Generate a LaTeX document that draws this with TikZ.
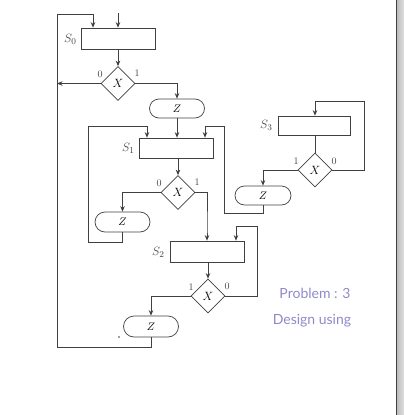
\documentclass[tikz,border=0pt]{standalone}
\usepackage{fontspec}
\newfontfamily\handfont{Lato}
\usetikzlibrary{shapes.geometric,shapes.misc,arrows.meta}
\definecolor{ink}{HTML}{404040}
\definecolor{pen}{HTML}{8E8AC9}
\begin{document}
\begin{tikzpicture}[x=1pt,y=-1pt,
  ln/.style={draw=ink,line width=0.7pt},
  arr/.style={ln,-{Stealth[length=5.5pt,width=4.5pt]}},
  statebox/.style={draw=ink,line width=0.7pt,rectangle,inner sep=0pt,minimum width=74pt,minimum height=21pt},
  decbox/.style={draw=ink,line width=0.7pt,diamond,inner sep=0pt,minimum width=34pt,minimum height=34pt,font=\fontsize{11.5}{13}\selectfont\itshape},
  outbox/.style={draw=ink,line width=0.7pt,rounded rectangle,inner sep=0pt,minimum width=55pt,minimum height=19pt,font=\fontsize{11}{13}\selectfont},
  slab/.style={font=\fontsize{12.5}{14}\selectfont,text=ink},
  blab/.style={font=\fontsize{10}{12}\selectfont,text=ink,inner sep=0pt}]
\useasboundingbox (0,0) rectangle (404,415);
% scan edge
\shade[left color=gray!55,right color=gray!25] (396,0) rectangle (404,415);
\draw[ink,line width=0.5pt] (396,0) -- (396,415);

% nodes
\node[statebox] (s0) at (118,38.5) {};
\node[slab,anchor=east] (ls0) at (80,39) {$S_0$};
\node[decbox] (d1) at (118,83.5) {$X$};
\node[outbox] (z1) at (177,108.5) {$Z$};
\node[statebox,minimum height=20pt] (s1) at (176,148) {};
\node[slab,anchor=east] (ls1) at (138,148) {$S_1$};
\node[decbox] (d2) at (178,192.5) {$X$};
\node[outbox,minimum height=20pt] (z2) at (122.5,222) {$Z$};
\node[statebox] (s2) at (207,251.5) {};
\node[slab,anchor=east] (ls2) at (168,252) {$S_2$};
\node[decbox] (d3) at (208,296) {$X$};
\node[outbox,minimum height=21pt] (z4) at (151,326.5) {$Z$};
\node[statebox,minimum width=72pt,minimum height=19pt] (s3) at (314,125.5) {};
\node[slab,anchor=east] (ls3) at (276,125) {$S_3$};
\node[decbox] (d4) at (315,170) {$X$};
\node[outbox,minimum width=56pt] (z3) at (263,195.5) {$Z$};

% branch labels
\node[blab] (a0) at (100,74) {0};
\node[blab] (a1) at (137,73) {1};
\node[blab] (b0) at (159,183) {0};
\node[blab] (b1) at (197,182) {1};
\node[blab] (c1) at (191,287) {1};
\node[blab] (c0) at (227,286) {0};
\node[blab] (e1) at (296,161) {1};
\node[blab] (e0) at (334,161) {0};

% coordinates for loops
\coordinate (in0) at (118,13);
\coordinate (lb) at (57,347);
\coordinate (lt) at (57,14);
\coordinate (t0) at (93,14);
\coordinate (l1b) at (88,242);
\coordinate (l1t) at (88,126);
\coordinate (l1a) at (147,126);
\coordinate (r1b) at (224,213);
\coordinate (r1t) at (224,126);
\coordinate (r1a) at (205,126);
\coordinate (s2in) at (207,230);
\coordinate (r2b) at (257,296);
\coordinate (r2t) at (257,226);
\coordinate (r2a) at (236,226);
\coordinate (r3b) at (364,170);
\coordinate (r3t) at (364,101);
\coordinate (r3a) at (315,101);

% connectors
\draw[arr] (in0) -- (s0.north);
\draw[arr] (z4.south) |- (lb) -- (lt) -- (t0) -- (t0 |- s0.north);
\draw[arr] (s0.south) -- (d1.north);
\draw[arr] (d1.west) -- (d1.west -| lb);
\draw[arr] (d1.east) -| (z1.north);
\draw[arr] (z1.south) -- (z1.south |- s1.north);
\draw[arr] (z2.south) |- (l1b) -- (l1t) -- (l1a) -- (l1a |- s1.north);
\draw[arr] (z3.south) |- (r1b) -- (r1t) -- (r1a) -- (r1a |- s1.north);
\draw[arr] (s1.south -| d2.north) -- (d2.north);
\draw[arr] (d2.west) -| (z2.north);
\draw[arr] (d2.east) -| (s2in) -- (s2in |- s2.north);
\draw[arr] (s2.south -| d3.north) -- (d3.north);
\draw[arr] (d3.east) -- (r2b) -- (r2t) -- (r2a) -- (r2a |- s2.north);
\draw[arr] (d3.west) -| (z4.north);
\draw[ln] (s3.south -| d4.north) -- (d4.north);
\draw[arr] (d4.east) -- (r3b) -- (r3t) -- (r3a) -- (r3a |- s3.north);
\draw[arr] (d4.west) -| (z3.north);

% speck
\fill[ink] (119,337) circle (0.8);

% handwriting
\node[font=\handfont\fontsize{14}{16}\selectfont,text=pen] (h1) at (315,293) {Problem : 3};
\node[font=\handfont\fontsize{14}{16}\selectfont,text=pen] (h2) at (312,321) {Design using};
\end{tikzpicture}
\end{document}
